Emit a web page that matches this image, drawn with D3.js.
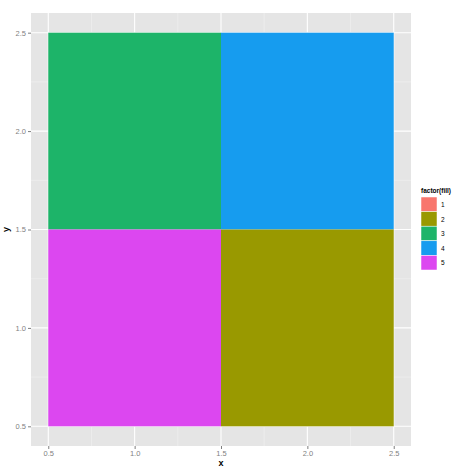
<!DOCTYPE html><html><head><script src="https://cdn.jsdelivr.net/npm/d3@7"></script>
<style>body{margin:0;background:#fff}text{font-family:"Liberation Sans",Arial,sans-serif}</style></head><body>
<script>
const xs=[1,2,1,2];
const ys=[2,2,1,1];
const fills=[3,4,5,2];
const levels=[1,2,3,4,5];
const colors=["#F8766D","#999900","#1DB469","#169CEF","#DC47F0"];
const ticks=[0.5,1.0,1.5,2.0,2.5];
const W=474,H=474;
const svg=d3.select("body").append("svg").attr("width",W).attr("height",H);
const L=31,R=411,T=13,B=446;
const x=d3.scaleLinear().domain([0.4,2.6]).range([L,R]);
const y=d3.scaleLinear().domain([0.4,2.6]).range([B,T]);
const col=d3.scaleOrdinal().domain(levels).range(colors);
svg.append("rect").attr("x",L).attr("y",T).attr("width",R-L).attr("height",B-T).attr("fill","#E5E5E5");
const minor=[0.75,1.25,1.75,2.25];
minor.forEach(v=>{
 svg.append("line").attr("x1",x(v)).attr("x2",x(v)).attr("y1",T).attr("y2",B).attr("stroke","#F2F2F2").attr("stroke-width",0.6);
 svg.append("line").attr("y1",y(v)).attr("y2",y(v)).attr("x1",L).attr("x2",R).attr("stroke","#F2F2F2").attr("stroke-width",0.6);});
ticks.forEach(v=>{
 svg.append("line").attr("x1",x(v)).attr("x2",x(v)).attr("y1",T).attr("y2",B).attr("stroke","#fff").attr("stroke-width",1.1);
 svg.append("line").attr("y1",y(v)).attr("y2",y(v)).attr("x1",L).attr("x2",R).attr("stroke","#fff").attr("stroke-width",1.1);});
svg.selectAll("rect.t").data(xs.map((d,i)=>({x:d,y:ys[i],f:fills[i]}))).enter().append("rect")
 .attr("x",d=>x(d.x-0.5)).attr("y",d=>y(d.y+0.5)).attr("width",d=>x(d.x+0.5)-x(d.x-0.5)).attr("height",d=>y(d.y-0.5)-y(d.y+0.5)).attr("fill",d=>col(d.f));
const fmt=d3.format(".1f");
const xa=svg.append("g").attr("transform",`translate(0,${B})`).call(d3.axisBottom(x).tickValues(ticks).tickFormat(fmt).tickSize(3).tickPadding(2));
const ya=svg.append("g").attr("transform",`translate(${L},0)`).call(d3.axisLeft(y).tickValues(ticks).tickFormat(fmt).tickSize(3).tickPadding(2));
[xa,ya].forEach(a=>{a.select(".domain").remove();a.selectAll("line").attr("stroke","#7F7F7F");a.selectAll("text").attr("fill","#7F7F7F").attr("font-size",7.5);});
svg.append("text").attr("x",(L+R)/2).attr("y",466).attr("text-anchor","middle").attr("font-size",9).attr("font-weight","bold").text("x");
svg.append("text").attr("transform",`translate(9,${(T+B)/2}) rotate(-90)`).attr("text-anchor","middle").attr("font-size",9).attr("font-weight","bold").text("y");
const lg=svg.append("g").attr("transform","translate(421,0)");
lg.append("text").attr("x",0).attr("y",193).attr("font-size",6.5).attr("font-weight","bold").text("factor(fill)");
levels.forEach((l,i)=>{
 lg.append("rect").attr("x",0).attr("y",197+i*14.6).attr("width",16).attr("height",14.6).attr("fill",col(l)).attr("stroke","#fff").attr("stroke-width",0.5);
 lg.append("text").attr("x",20).attr("y",197+i*14.6+10).attr("font-size",6.5).text(l);});
</script></body></html>
